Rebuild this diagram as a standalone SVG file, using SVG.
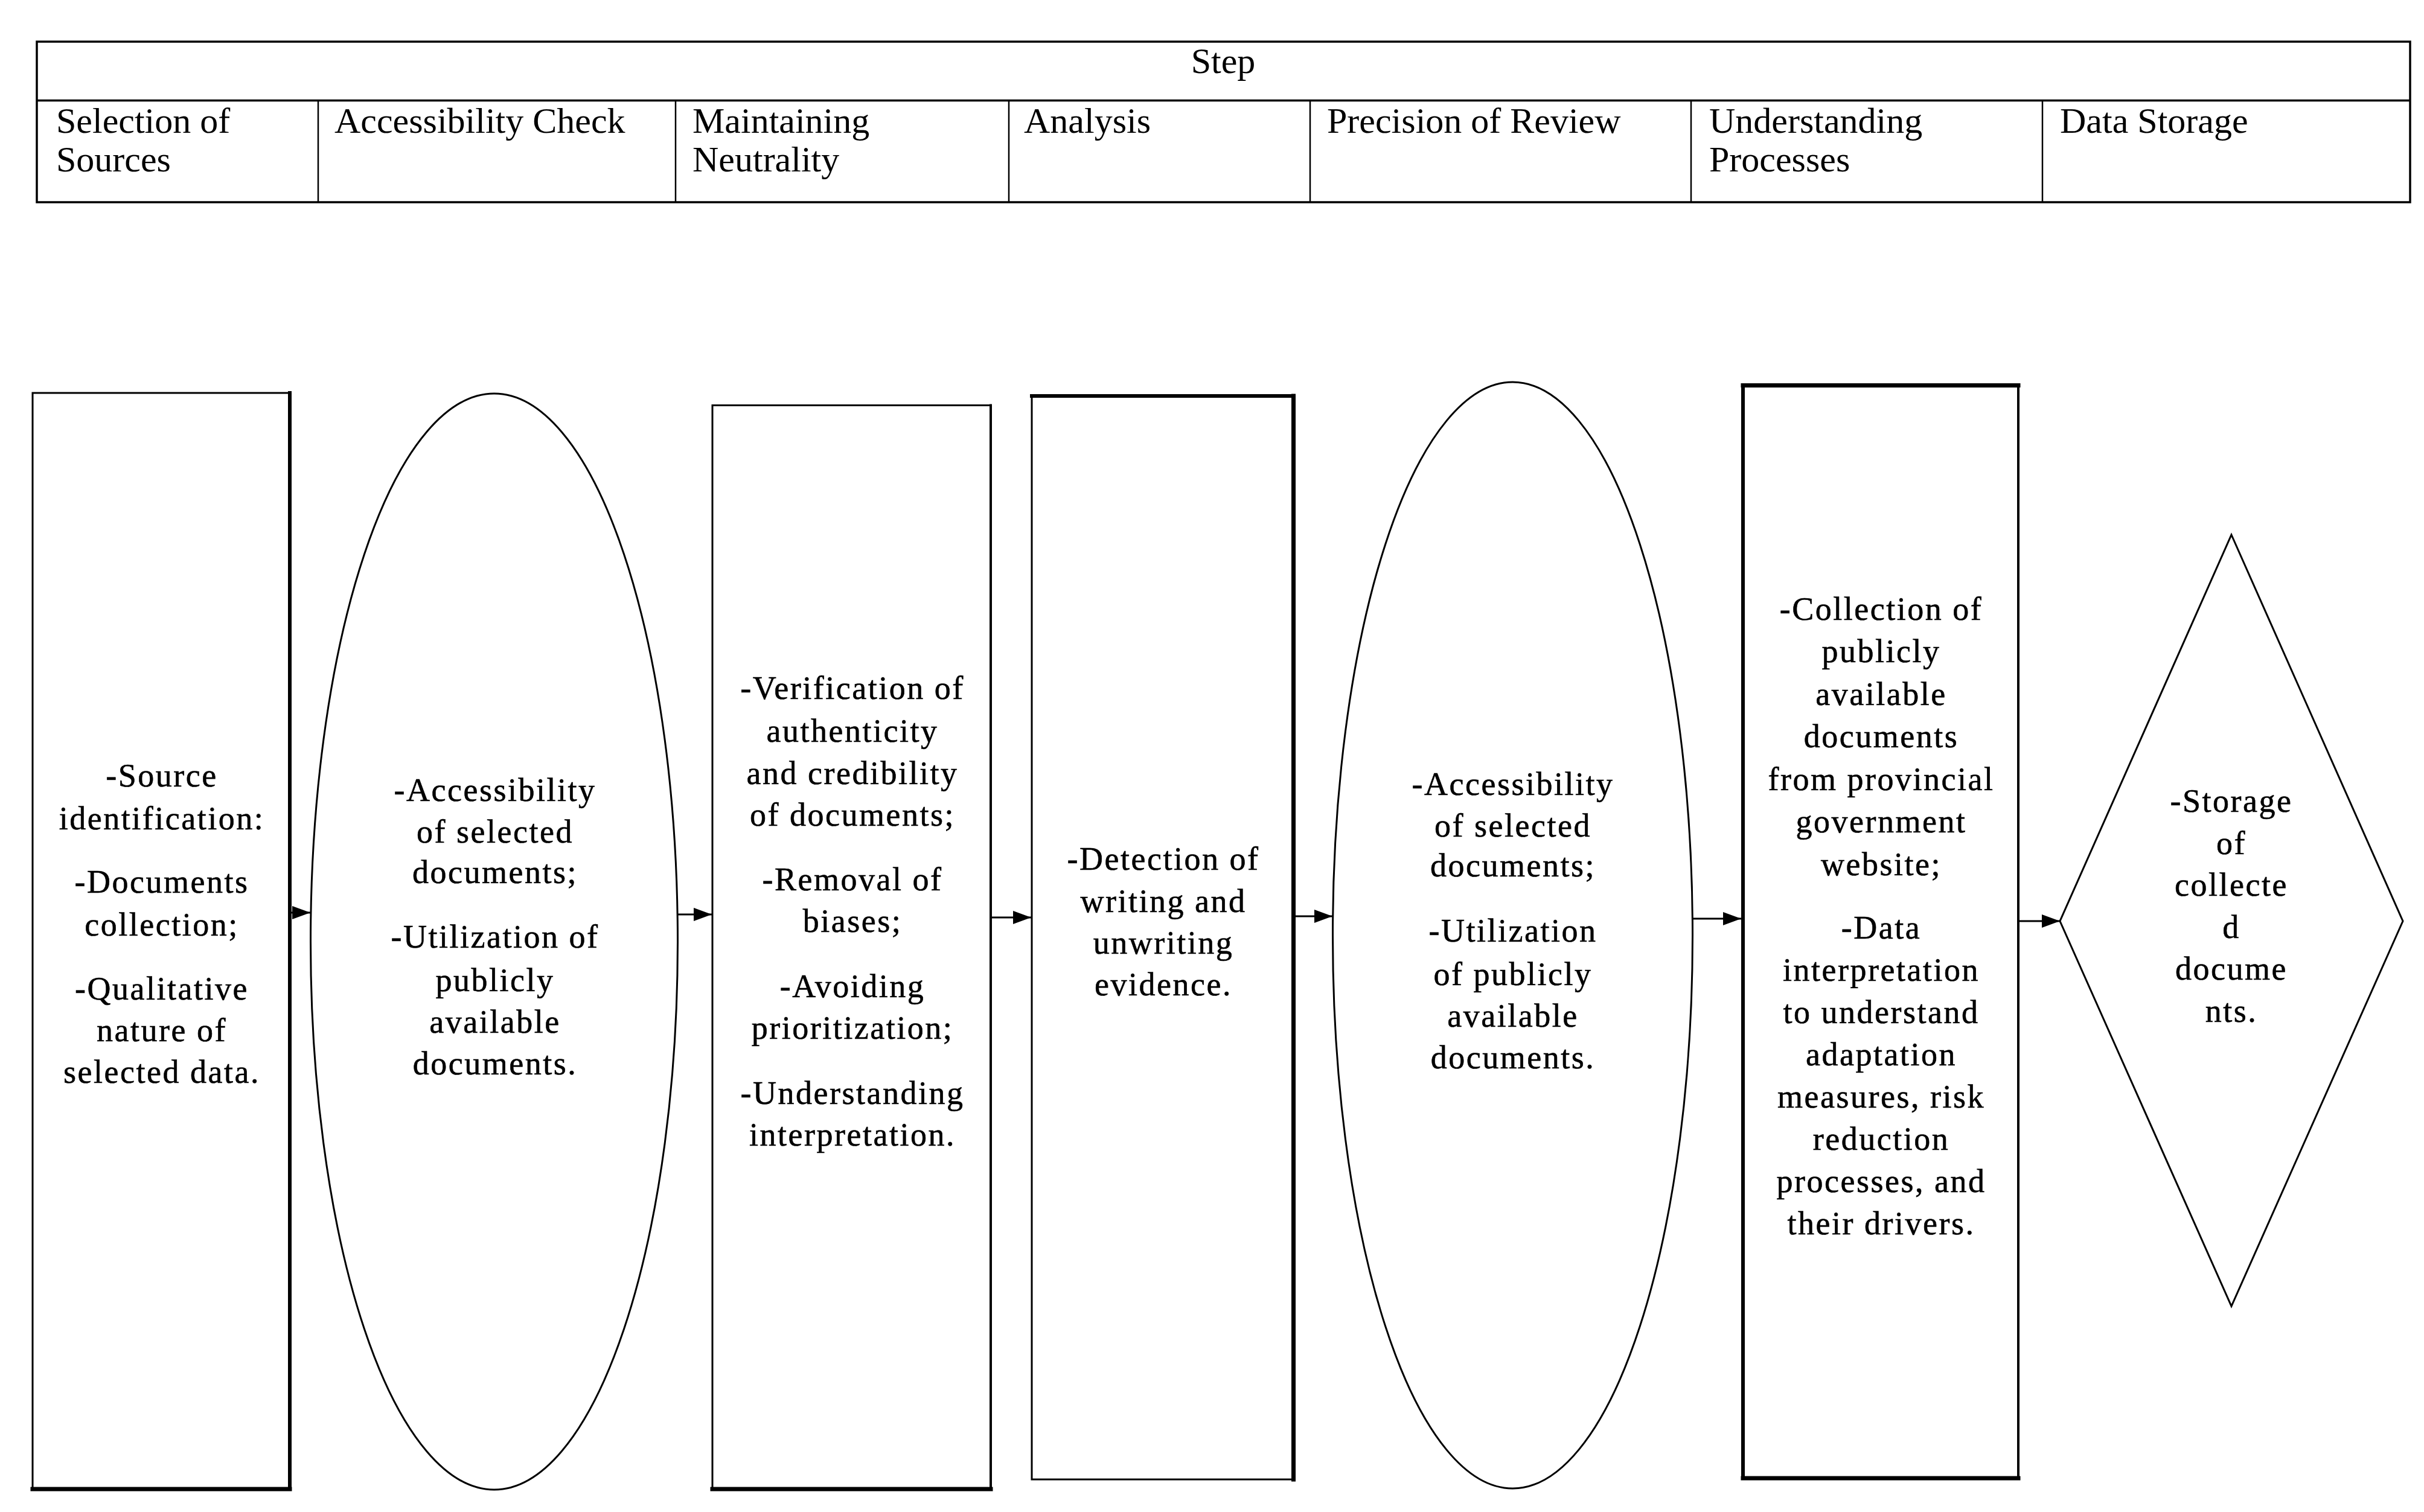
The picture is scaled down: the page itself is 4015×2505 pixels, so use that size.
<svg xmlns="http://www.w3.org/2000/svg" width="4015" height="2505" viewBox="0 0 4015 2505">
<style>
.bg{fill:#fff}
.hdr{font-family:"Liberation Serif","Times New Roman",serif;font-size:60px;fill:#000}
.txt{font-family:"Liberation Serif","Times New Roman",serif;font-size:54px;letter-spacing:2.5px;fill:#000;stroke:#000;stroke-width:0.6;text-anchor:middle}
.outer{fill:none;stroke:#000;stroke-width:3.5}
.inner{stroke:#000;stroke-width:2.5}
.shape{fill:#fff;stroke:#000;stroke-width:3}
.edge{stroke:#000;stroke-linecap:square}
.conn{stroke:#000;stroke-width:3;fill:none}
</style>
<defs>
<marker id="arr" markerUnits="userSpaceOnUse" markerWidth="32" markerHeight="24" refX="30" refY="11" orient="auto">
<path d="M0,0 L30,11 L0,22 Z" fill="#000"/>
</marker>
</defs>
<rect class="bg" x="0" y="0" width="4015" height="2505"/>

<g id="header-table">
<rect class="outer" x="61" y="69" width="3931" height="266"/>
<line class="inner" x1="61" y1="166.5" x2="3992" y2="166.5" style="stroke-width:3.5"/>
<line class="inner" x1="527" y1="166.5" x2="527" y2="335"/>
<line class="inner" x1="1119" y1="166.5" x2="1119" y2="335"/>
<line class="inner" x1="1671" y1="166.5" x2="1671" y2="335"/>
<line class="inner" x1="2170" y1="166.5" x2="2170" y2="335"/>
<line class="inner" x1="2801" y1="166.5" x2="2801" y2="335"/>
<line class="inner" x1="3383" y1="166.5" x2="3383" y2="335"/>
<text class="hdr" x="2026" y="121" text-anchor="middle">Step</text>
<text class="hdr" x="93" y="220">Selection of</text>
<text class="hdr" x="93" y="284">Sources</text>
<text class="hdr" x="554" y="220">Accessibility Check</text>
<text class="hdr" x="1147" y="220">Maintaining</text>
<text class="hdr" x="1147" y="284">Neutrality</text>
<text class="hdr" x="1696" y="220">Analysis</text>
<text class="hdr" x="2198" y="220">Precision of Review</text>
<text class="hdr" x="2831" y="220">Understanding</text>
<text class="hdr" x="2831" y="284">Processes</text>
<text class="hdr" x="3412" y="220">Data Storage</text>
</g>

<g id="connectors">
<line class="conn" x1="483" y1="1512" x2="514" y2="1512" marker-end="url(#arr)"/>
<line class="conn" x1="1123" y1="1515" x2="1179" y2="1515" marker-end="url(#arr)"/>
<line class="conn" x1="1643" y1="1520" x2="1708" y2="1520" marker-end="url(#arr)"/>
<line class="conn" x1="2146" y1="1518" x2="2207" y2="1518" marker-end="url(#arr)"/>
<line class="conn" x1="2804" y1="1522" x2="2884" y2="1522" marker-end="url(#arr)"/>
<line class="conn" x1="3345" y1="1526" x2="3412" y2="1526" marker-end="url(#arr)"/>
</g>

<g id="node-selection">
<rect class="shape" x="54" y="651" width="426" height="1816"/>
<line class="edge" x1="480" y1="651" x2="480" y2="2467" style="stroke-width:6"/>
<line class="edge" x1="54" y1="2467" x2="480" y2="2467" style="stroke-width:7"/>
<text class="txt" x="268" y="1303">-Source</text>
<text class="txt" x="268" y="1374">identification:</text>
<text class="txt" x="268" y="1479">-Documents</text>
<text class="txt" x="268" y="1550">collection;</text>
<text class="txt" x="268" y="1656">-Qualitative</text>
<text class="txt" x="268" y="1725">nature of</text>
<text class="txt" x="268" y="1794">selected data.</text>
</g>

<g id="node-accessibility">
<ellipse class="shape" cx="818.5" cy="1560" rx="304" ry="908"/>
<text class="txt" x="820" y="1327">-Accessibility</text>
<text class="txt" x="820" y="1396">of selected</text>
<text class="txt" x="820" y="1463">documents;</text>
<text class="txt" x="820" y="1570">-Utilization of</text>
<text class="txt" x="820" y="1642">publicly</text>
<text class="txt" x="820" y="1711">available</text>
<text class="txt" x="820" y="1780">documents.</text>
</g>

<g id="node-neutrality">
<rect class="shape" x="1180" y="671.5" width="461" height="1795.5"/>
<line class="edge" x1="1641" y1="671.5" x2="1641" y2="2467" style="stroke-width:4"/>
<line class="edge" x1="1180" y1="2467" x2="1641" y2="2467" style="stroke-width:7"/>
<text class="txt" x="1412" y="1158">-Verification of</text>
<text class="txt" x="1412" y="1229">authenticity</text>
<text class="txt" x="1412" y="1299">and credibility</text>
<text class="txt" x="1412" y="1368">of documents;</text>
<text class="txt" x="1412" y="1475">-Removal of</text>
<text class="txt" x="1412" y="1544">biases;</text>
<text class="txt" x="1412" y="1652">-Avoiding</text>
<text class="txt" x="1412" y="1721">prioritization;</text>
<text class="txt" x="1412" y="1829">-Understanding</text>
<text class="txt" x="1412" y="1898">interpretation.</text>
</g>

<g id="node-analysis">
<rect class="shape" x="1709" y="656" width="433.5" height="1795"/>
<line class="edge" x1="2142.5" y1="656" x2="2142.5" y2="2451" style="stroke-width:7"/>
<line class="edge" x1="1709" y1="656" x2="2142.5" y2="656" style="stroke-width:6"/>
<text class="txt" x="1927" y="1441">-Detection of</text>
<text class="txt" x="1927" y="1511">writing and</text>
<text class="txt" x="1927" y="1580">unwriting</text>
<text class="txt" x="1927" y="1649">evidence.</text>
</g>

<g id="node-precision">
<ellipse class="shape" cx="2505.5" cy="1549.5" rx="298" ry="916.5"/>
<text class="txt" x="2506" y="1317">-Accessibility</text>
<text class="txt" x="2506" y="1386">of selected</text>
<text class="txt" x="2506" y="1452">documents;</text>
<text class="txt" x="2506" y="1560">-Utilization</text>
<text class="txt" x="2506" y="1632">of publicly</text>
<text class="txt" x="2506" y="1701">available</text>
<text class="txt" x="2506" y="1770">documents.</text>
</g>

<g id="node-understanding">
<rect class="shape" x="2887" y="638.5" width="456" height="1810.5"/>
<line class="edge" x1="2887" y1="638.5" x2="2887" y2="2449" style="stroke-width:6"/>
<line class="edge" x1="3343" y1="638.5" x2="3343" y2="2449" style="stroke-width:4"/>
<line class="edge" x1="2887" y1="638.5" x2="3343" y2="638.5" style="stroke-width:7"/>
<line class="edge" x1="2887" y1="2449" x2="3343" y2="2449" style="stroke-width:7"/>
<text class="txt" x="3116" y="1027">-Collection of</text>
<text class="txt" x="3116" y="1097">publicly</text>
<text class="txt" x="3116" y="1168">available</text>
<text class="txt" x="3116" y="1238">documents</text>
<text class="txt" x="3116" y="1309">from provincial</text>
<text class="txt" x="3116" y="1379">government</text>
<text class="txt" x="3116" y="1450">website;</text>
<text class="txt" x="3116" y="1555">-Data</text>
<text class="txt" x="3116" y="1625">interpretation</text>
<text class="txt" x="3116" y="1695">to understand</text>
<text class="txt" x="3116" y="1765">adaptation</text>
<text class="txt" x="3116" y="1835">measures, risk</text>
<text class="txt" x="3116" y="1905">reduction</text>
<text class="txt" x="3116" y="1975">processes, and</text>
<text class="txt" x="3116" y="2045">their drivers.</text>
</g>

<g id="node-storage">
<polygon class="shape" points="3696,886 3980,1526 3696,2164 3412,1526"/>
<text class="txt" x="3696" y="1345">-Storage</text>
<text class="txt" x="3696" y="1415">of</text>
<text class="txt" x="3696" y="1484">collecte</text>
<text class="txt" x="3696" y="1554">d</text>
<text class="txt" x="3696" y="1623">docume</text>
<text class="txt" x="3696" y="1693">nts.</text>
</g>
</svg>
